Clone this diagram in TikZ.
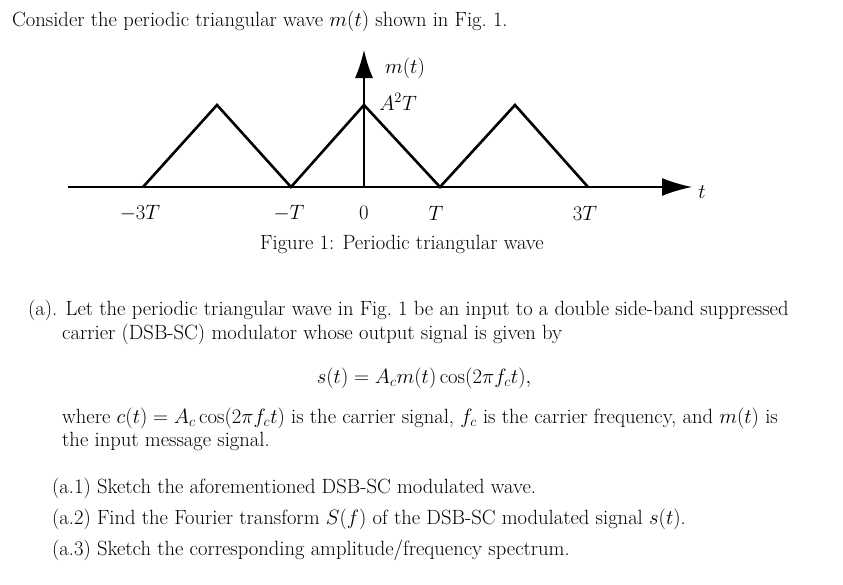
\documentclass[tikz,border=0pt]{standalone}
\usepackage{amsmath}
\usetikzlibrary{arrows.meta}
\begin{document}
\begin{tikzpicture}[x=1pt,y=-1pt,
  txt/.style={anchor=west,inner sep=0pt,font=\fontsize{20.6}{24}\selectfont},
  lbl/.style={inner sep=0pt,font=\fontsize{20.6}{24}\selectfont}]
\useasboundingbox (0,0) rectangle (843,584);
\node[txt] (title) at (12,21) {Consider the periodic triangular wave $m(t)$ shown in Fig.~1.};
% axes
\coordinate (xs) at (68,187); \coordinate (xe) at (692,187);
\coordinate (o) at (364,187); \coordinate (ye) at (364,50);
\draw[line width=1.6pt,-{Latex[length=30pt,width=18pt]}] (xs) -- (xe);
\draw[line width=1.2pt,-{Latex[length=28pt,width=18pt]}] (o) -- (ye);
\draw[line width=2.6pt,line join=miter] (143,187) -- (217,105) -- (291,187) -- (364,105) -- (440,187) -- (515,105) -- (588,187);
\node[lbl] (tl) at (702,192) {$t$};
\node[lbl] (ml) at (405,68) {$m(t)$};
\node[lbl] (al) at (398,102) {$A^2T$};
\node[lbl] (l1) at (140,213) {$-3T$};
\node[lbl] (l2) at (289,213) {$-T$};
\node[lbl] (l3) at (364,213) {$0$};
\node[lbl] (l4) at (436,213) {$T$};
\node[lbl] (l5) at (585,213) {$3T$};
\node[lbl] (cap) at (402,244) {Figure 1: Periodic triangular wave};
% text
\node[txt] (a1) at (28,310) {(a). Let the periodic triangular wave in Fig.~1 be an input to a double side-band suppressed};
\node[txt] (a2) at (62,334) {carrier (DSB-SC) modulator whose output signal is given by};
\node[lbl] (eq) at (424,378) {$s(t)=A_cm(t)\cos(2\pi f_ct),$};
\node[txt] (w1) at (62,418) {where $c(t)=A_c\cos(2\pi f_ct)$ is the carrier signal, $f_c$ is the carrier frequency, and $m(t)$ is};
\node[txt] (w2) at (62,441) {the input message signal.};
\node[txt] (q1) at (52,488) {(a.1) Sketch the aforementioned DSB-SC modulated wave.};
\node[txt] (q2) at (52,519) {(a.2) Find the Fourier transform $S(f)$ of the DSB-SC modulated signal $s(t)$.};
\node[txt] (q3) at (52,550) {(a.3) Sketch the corresponding amplitude/frequency spectrum.};
\end{tikzpicture}
\end{document}
